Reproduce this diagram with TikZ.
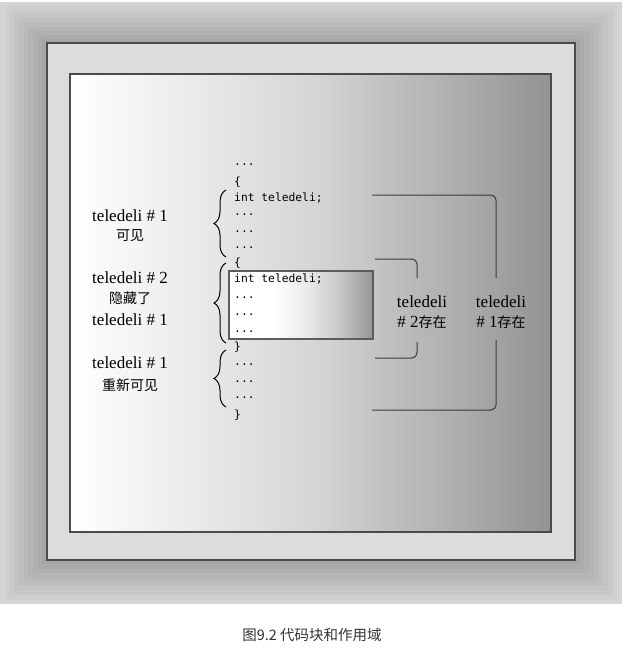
\documentclass[tikz,border=0pt]{standalone}
\usepackage{fontspec}
\setmainfont{Liberation Serif}
\setmonofont{DejaVu Sans Mono}
\newfontfamily\cjk{Noto Sans CJK SC}
\usetikzlibrary{decorations.pathreplacing}
\definecolor{framegray}{HTML}{4A4A4A}
\definecolor{midfill}{HTML}{DCDBDD}
\definecolor{innermid}{HTML}{D6D6D6}
\definecolor{innerend}{HTML}{939391}
\definecolor{hlmid}{HTML}{EAEAEA}
\definecolor{hlmid2}{HTML}{C6C6C6}
\definecolor{hlend}{HTML}{939393}
\definecolor{linegray}{HTML}{3A3A3A}
\definecolor{captiongray}{HTML}{333333}
\pgfdeclarehorizontalshading{hlshade}{100bp}{color(0bp)=(white); color(25bp)=(white); color(40bp)=(white); color(52bp)=(hlmid); color(64bp)=(hlmid2); color(75bp)=(hlend); color(100bp)=(hlend)}
\pgfdeclarehorizontalshading{innershade}{100bp}{color(0bp)=(white); color(25bp)=(white); color(50bp)=(innermid); color(75bp)=(innerend); color(100bp)=(innerend)}
\tikzset{
  lab/.style={anchor=base, inner sep=0pt, font=\fontsize{17}{20}\selectfont},
  cjklab/.style={anchor=base, inner sep=0pt, font=\cjk\fontsize{14}{16}\selectfont},
  code/.style={anchor=base west, inner sep=0pt, font=\ttfamily\fontsize{11.3}{13}\selectfont},
  bracebar/.style={decorate, decoration={brace, amplitude=12pt}, line width=1pt, black},
  bracket/.style={draw=linegray, line width=1pt, rounded corners=5pt},
}
\begin{document}
\begin{tikzpicture}[x=1pt,y=-1pt]
\useasboundingbox (0,0) rectangle (626,651);
% outer stepped gray frame
\foreach \i/\g in {0/83,1/81,2/79,3/77,4/75,5/73,6/71,7/69,8/67,9/65} {
  \fill[white!\g!black] ({4.7*\i},{2+4.1*\i}) rectangle ({622-4.7*\i},{604-4.4*\i});
}
% middle frame
\draw[draw=framegray, line width=1.6pt, fill=midfill] (47,43) rectangle (575,560);
% inner gradient panel
\draw[draw=framegray, line width=1.4pt, shading=innershade] (70,74) rectangle (551,532);
% highlighted inner block
\draw[draw=framegray!90, line width=1.6pt, shading=hlshade] (229,271) rectangle (373,339);

% code lines
\node[code] (c1) at (234,165) {...};
\node[code] (c2) at (234,185) {\{};
\node[code] (c3) at (234,201) {int teledeli;};
\node[code] (c4) at (234,215) {...};
\node[code] (c5) at (234,232) {...};
\node[code] (c6) at (234,248) {...};
\node[code] (c7) at (234,266) {\{};
\node[code] (c8) at (234,282) {int teledeli;};
\node[code] (c9) at (234,298) {...};
\node[code] (c10) at (234,315) {...};
\node[code] (c11) at (234,332) {...};
\node[code] (c12) at (234,350) {\}};
\node[code] (c13) at (234,365) {...};
\node[code] (c14) at (234,382) {...};
\node[code] (c15) at (234,398) {...};
\node[code] (c16) at (234,418) {\}};

% braces
\coordinate (b1t) at (226,190);
\coordinate (b1b) at (226,257);
\coordinate (b2t) at (226,263);
\coordinate (b2b) at (226,343);
\coordinate (b3t) at (226,350);
\coordinate (b3b) at (226,407);
\draw[bracebar] (b1b) -- (b1t);
\draw[bracebar] (b2b) -- (b2t);
\draw[bracebar] (b3b) -- (b3t);

% left labels
\node[lab] (l1a) at (130,221) {teledeli \# 1};
\node[cjklab] (l1b) at (130,240) {可见};
\node[lab] (l2a) at (130,283) {teledeli \# 2};
\node[cjklab] (l2b) at (130,303) {隐藏了};
\node[lab] (l2c) at (130,325) {teledeli \# 1};
\node[lab] (l3a) at (130,368) {teledeli \# 1};
\node[cjklab] (l3b) at (130,390) {重新可见};

% right brackets
\coordinate (o1) at (372,195);
\coordinate (o2) at (496,195);
\coordinate (o3) at (496,278);
\coordinate (o4) at (496,340);
\coordinate (o5) at (496,410);
\coordinate (o6) at (372,410);
\draw[bracket] (o1) -- (o2) -- (o3);
\draw[bracket] (o4) -- (o5) -- (o6);
\coordinate (i1) at (375,259);
\coordinate (i2) at (417,259);
\coordinate (i3) at (417,278);
\coordinate (i4) at (417,342);
\coordinate (i5) at (417,358);
\coordinate (i6) at (375,358);
\draw[bracket] (i1) -- (i2) -- (i3);
\draw[bracket] (i4) -- (i5) -- (i6);

% right labels
\node[lab] (r2a) at (422,307) {teledeli};
\node[lab] (r2b) at (422,327) {\# 2{\cjk\fontsize{14}{16}\selectfont 存在}};
\node[lab] (r1a) at (501,307) {teledeli};
\node[lab] (r1b) at (501,327) {\# 1{\cjk\fontsize{14}{16}\selectfont 存在}};

% caption
\node[anchor=base, inner sep=0pt, text=captiongray, font=\cjk\fontsize{14.5}{17}\selectfont] (cap) at (312,640) {图9.2 代码块和作用域};
\end{tikzpicture}
\end{document}
